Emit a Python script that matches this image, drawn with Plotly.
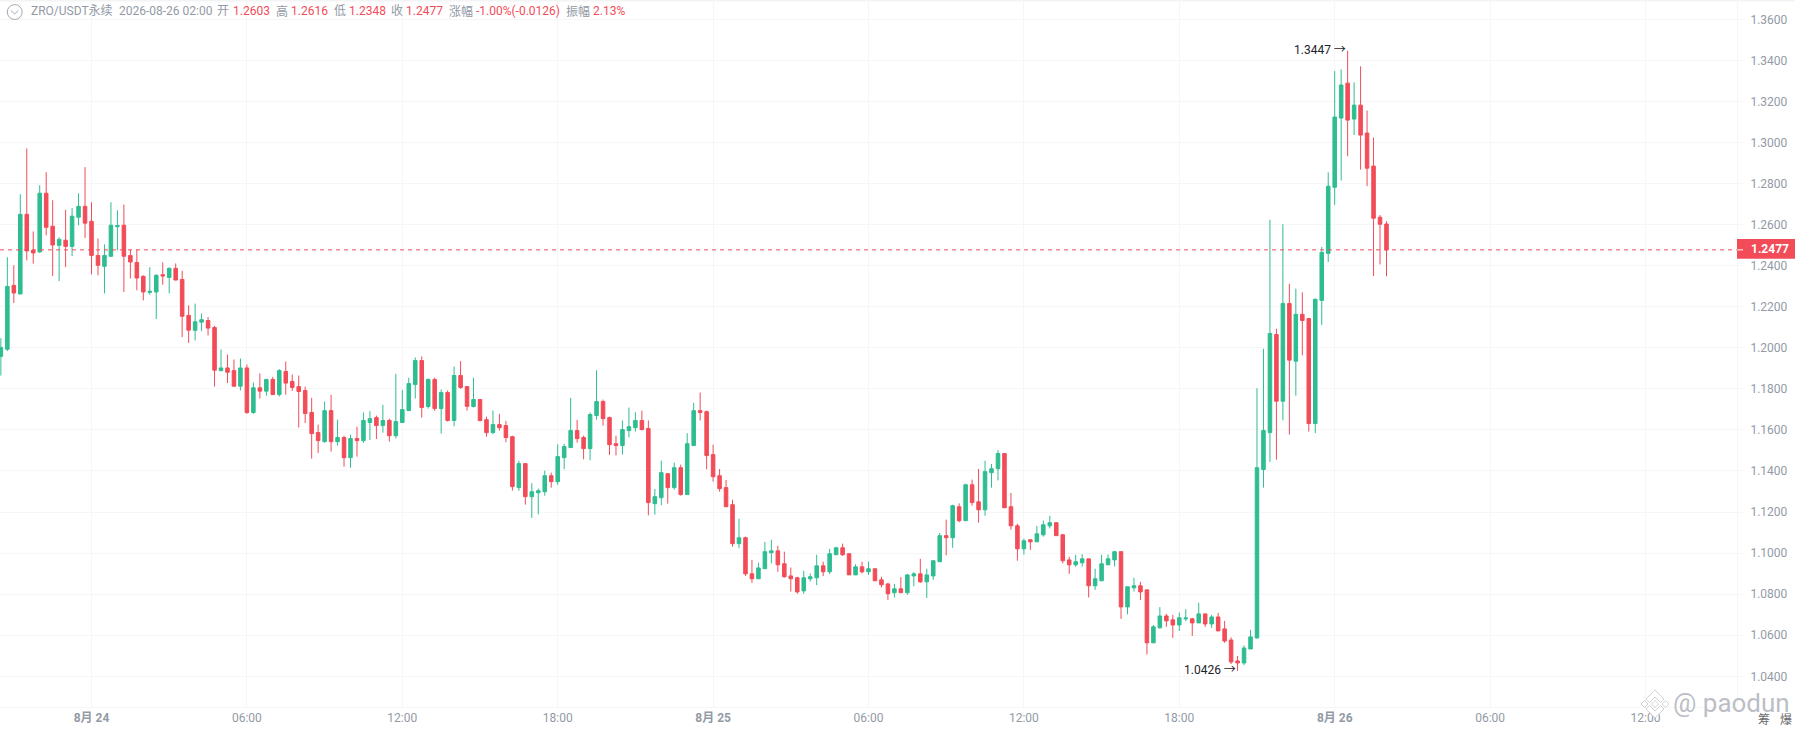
import pandas as pd
import plotly.graph_objects as go

# 15 分钟 K 线，从图上读出来的
START = "2026-08-23 20:30"

opens = [
    1.1958, 1.1993, 1.2304, 1.2262, 1.2650, 1.2475, 1.2467, 1.2753, 1.2592, 1.2499,
    1.2524, 1.2494, 1.2636, 1.2689, 1.2616, 1.2450, 1.2397, 1.2446, 1.2590, 1.2597,
    1.2450, 1.2416, 1.2348, 1.2270, 1.2272, 1.2356, 1.2343, 1.2387, 1.2333, 1.2158,
    1.2085, 1.2125, 1.2133, 1.2099, 1.1889, 1.1902, 1.1889, 1.1813, 1.1902, 1.1685,
    1.1805, 1.1789, 1.1846, 1.1772, 1.1885, 1.1836, 1.1811, 1.1792, 1.1685, 1.1587,
    1.1543, 1.1694, 1.1543, 1.1563, 1.1465, 1.1558, 1.1548, 1.1636, 1.1660, 1.1621,
    1.1646, 1.1572, 1.1636, 1.1694, 1.1821, 1.1938, 1.1714, 1.1846, 1.1704, 1.1782,
    1.1646, 1.1865, 1.1811, 1.1714, 1.1748, 1.1650, 1.1587, 1.1626, 1.1621, 1.1567,
    1.1319, 1.1436, 1.1275, 1.1294, 1.1299, 1.1377, 1.1348, 1.1465, 1.1514, 1.1597,
    1.1563, 1.1509, 1.1670, 1.1738, 1.1660, 1.1533, 1.1524, 1.1597, 1.1611, 1.1646,
    1.1607, 1.1241, 1.1270, 1.1387, 1.1319, 1.1416, 1.1285, 1.1524, 1.1694, 1.1689,
    1.1480, 1.1377, 1.1319, 1.1236, 1.1046, 1.1075, 1.0899, 1.0875, 1.0924, 1.1002,
    1.1011, 1.0948, 1.0889, 1.0880, 1.0816, 1.0875, 1.0880, 1.0938, 1.0909, 1.0992,
    1.1026, 1.0997, 1.0894, 1.0933, 1.0909, 1.0924, 1.0870, 1.0850, 1.0807, 1.0826,
    1.0807, 1.0889, 1.0899, 1.0860, 1.0889, 1.0958, 1.1085, 1.1075, 1.1226, 1.1158,
    1.1333, 1.1250, 1.1211, 1.1392, 1.1411, 1.1485, 1.1226, 1.1133, 1.1021, 1.1065,
    1.1055, 1.1089, 1.1133, 1.1148, 1.1089, 1.0967, 1.0943, 1.0953, 1.0972, 1.0841,
    1.0865, 1.0943, 1.0967, 1.1007, 1.0738, 1.0831, 1.0841, 1.0821, 1.0563, 1.0636,
    1.0694, 1.0675, 1.0650, 1.0680, 1.0680, 1.0660, 1.0704, 1.0655, 1.0689, 1.0631,
    1.0577, 1.0475, 1.0465, 1.0533, 1.0587, 1.1407, 1.1587, 1.2065, 1.1740, 1.2216,
    1.1935, 1.2163, 1.2143, 1.1631, 1.2231, 1.2460, 1.2782, 1.3119, 1.3289, 1.3114,
    1.3182, 1.3046, 1.2885, 1.2636, 1.2603,
]
closes = [
    1.2002, 1.2299, 1.2267, 1.2650, 1.2472, 1.2462, 1.2753, 1.2587, 1.2501, 1.2528,
    1.2494, 1.2641, 1.2689, 1.2607, 1.2450, 1.2402, 1.2450, 1.2597, 1.2595, 1.2446,
    1.2418, 1.2340, 1.2272, 1.2275, 1.2353, 1.2350, 1.2387, 1.2330, 1.2154, 1.2086,
    1.2127, 1.2137, 1.2096, 1.1891, 1.1902, 1.1881, 1.1813, 1.1902, 1.1685, 1.1805,
    1.1789, 1.1846, 1.1772, 1.1889, 1.1828, 1.1807, 1.1787, 1.1680, 1.1582, 1.1548,
    1.1694, 1.1543, 1.1563, 1.1465, 1.1558, 1.1548, 1.1646, 1.1655, 1.1621, 1.1646,
    1.1572, 1.1641, 1.1699, 1.1826, 1.1938, 1.1709, 1.1846, 1.1704, 1.1782, 1.1646,
    1.1865, 1.1807, 1.1715, 1.1748, 1.1646, 1.1587, 1.1626, 1.1611, 1.1563, 1.1324,
    1.1436, 1.1275, 1.1299, 1.1304, 1.1377, 1.1348, 1.1470, 1.1519, 1.1597, 1.1558,
    1.1509, 1.1675, 1.1738, 1.1655, 1.1528, 1.1524, 1.1602, 1.1616, 1.1646, 1.1602,
    1.1246, 1.1275, 1.1392, 1.1319, 1.1416, 1.1285, 1.1533, 1.1694, 1.1685, 1.1475,
    1.1372, 1.1314, 1.1226, 1.1046, 1.1075, 1.0899, 1.0875, 1.0928, 1.1007, 1.1011,
    1.0943, 1.0885, 1.0875, 1.0811, 1.0880, 1.0885, 1.0938, 1.0909, 1.0997, 1.1026,
    1.0992, 1.0894, 1.0933, 1.0909, 1.0924, 1.0865, 1.0846, 1.0802, 1.0826, 1.0807,
    1.0894, 1.0899, 1.0860, 1.0894, 1.0963, 1.1085, 1.1075, 1.1231, 1.1158, 1.1333,
    1.1246, 1.1211, 1.1397, 1.1411, 1.1485, 1.1221, 1.1133, 1.1021, 1.1060, 1.1055,
    1.1094, 1.1138, 1.1148, 1.1085, 1.0963, 1.0943, 1.0958, 1.0972, 1.0841, 1.0875,
    1.0948, 1.0972, 1.1007, 1.0738, 1.0836, 1.0841, 1.0811, 1.0563, 1.0641, 1.0694,
    1.0670, 1.0650, 1.0685, 1.0684, 1.0660, 1.0704, 1.0655, 1.0689, 1.0621, 1.0572,
    1.0470, 1.0465, 1.0538, 1.0592, 1.1416, 1.1597, 1.2070, 1.1740, 1.2216, 1.1940,
    1.2163, 1.2133, 1.1631, 1.2236, 1.2465, 1.2787, 1.3124, 1.3280, 1.3109, 1.3182,
    1.3036, 1.2875, 1.2631, 1.2602, 1.2477,
]
highs = [
    1.2047, 1.2441, 1.2402, 1.2748, 1.2971, 1.2567, 1.2792, 1.2855, 1.2719, 1.2538,
    1.2672, 1.2681, 1.2753, 1.2880, 1.2709, 1.2532, 1.2504, 1.2709, 1.2670, 1.2698,
    1.2478, 1.2478, 1.2353, 1.2393, 1.2358, 1.2416, 1.2392, 1.2411, 1.2375, 1.2207,
    1.2215, 1.2167, 1.2150, 1.2107, 1.1992, 1.1967, 1.1943, 1.1948, 1.1919, 1.1831,
    1.1875, 1.1846, 1.1859, 1.1896, 1.1933, 1.1870, 1.1865, 1.1811, 1.1756, 1.1626,
    1.1738, 1.1771, 1.1650, 1.1572, 1.1577, 1.1616, 1.1685, 1.1691, 1.1670, 1.1722,
    1.1655, 1.1873, 1.1795, 1.1854, 1.1953, 1.1958, 1.1850, 1.1855, 1.1797, 1.1792,
    1.1909, 1.1935, 1.1811, 1.1854, 1.1751, 1.1665, 1.1694, 1.1678, 1.1644, 1.1572,
    1.1450, 1.1436, 1.1340, 1.1315, 1.1402, 1.1392, 1.1530, 1.1532, 1.1756, 1.1649,
    1.1572, 1.1685, 1.1891, 1.1748, 1.1665, 1.1572, 1.1646, 1.1709, 1.1686, 1.1694,
    1.1646, 1.1312, 1.1450, 1.1387, 1.1441, 1.1431, 1.1584, 1.1732, 1.1782, 1.1694,
    1.1528, 1.1410, 1.1356, 1.1260, 1.1167, 1.1081, 1.0967, 1.0953, 1.1055, 1.1065,
    1.1036, 1.1007, 1.0930, 1.0885, 1.0914, 1.0901, 1.0992, 1.0958, 1.1021, 1.1031,
    1.1046, 1.0997, 1.0946, 1.0958, 1.0958, 1.0924, 1.0885, 1.0855, 1.0850, 1.0883,
    1.0899, 1.0907, 1.0972, 1.0924, 1.0963, 1.1098, 1.1163, 1.1236, 1.1242, 1.1338,
    1.1358, 1.1410, 1.1450, 1.1434, 1.1502, 1.1485, 1.1293, 1.1143, 1.1070, 1.1065,
    1.1133, 1.1158, 1.1182, 1.1148, 1.1094, 1.0982, 1.0992, 1.0995, 1.0972, 1.0924,
    1.0992, 1.0993, 1.1011, 1.1007, 1.0836, 1.0880, 1.0860, 1.0821, 1.0650, 1.0737,
    1.0704, 1.0699, 1.0711, 1.0727, 1.0685, 1.0758, 1.0704, 1.0699, 1.0709, 1.0670,
    1.0590, 1.0499, 1.0551, 1.0626, 1.1803, 1.1995, 1.2624, 1.2093, 1.2602, 1.2312,
    1.2288, 1.2270, 1.2143, 1.2241, 1.2491, 1.2855, 1.3348, 1.3356, 1.3447, 1.3293,
    1.3371, 1.3156, 1.3024, 1.2647, 1.2616,
]
lows = [
    1.1865, 1.1984, 1.2218, 1.2262, 1.2426, 1.2410, 1.2463, 1.2548, 1.2350, 1.2325,
    1.2393, 1.2447, 1.2597, 1.2535, 1.2358, 1.2353, 1.2265, 1.2442, 1.2475, 1.2272,
    1.2338, 1.2280, 1.2231, 1.2259, 1.2140, 1.2307, 1.2265, 1.2330, 1.2052, 1.2024,
    1.2036, 1.2081, 1.2060, 1.1811, 1.1885, 1.1828, 1.1811, 1.1792, 1.1678, 1.1678,
    1.1753, 1.1766, 1.1772, 1.1763, 1.1772, 1.1790, 1.1611, 1.1634, 1.1460, 1.1488,
    1.1538, 1.1494, 1.1524, 1.1421, 1.1416, 1.1470, 1.1537, 1.1551, 1.1556, 1.1587,
    1.1543, 1.1559, 1.1636, 1.1694, 1.1753, 1.1660, 1.1704, 1.1693, 1.1582, 1.1641,
    1.1618, 1.1800, 1.1694, 1.1709, 1.1641, 1.1567, 1.1580, 1.1597, 1.1540, 1.1304,
    1.1304, 1.1236, 1.1171, 1.1189, 1.1280, 1.1319, 1.1333, 1.1408, 1.1514, 1.1538,
    1.1457, 1.1452, 1.1650, 1.1621, 1.1478, 1.1476, 1.1480, 1.1564, 1.1592, 1.1597,
    1.1184, 1.1187, 1.1233, 1.1241, 1.1309, 1.1280, 1.1285, 1.1524, 1.1646, 1.1408,
    1.1348, 1.1299, 1.1226, 1.1031, 1.1024, 1.0889, 1.0855, 1.0875, 1.0924, 1.0950,
    1.0909, 1.0880, 1.0813, 1.0802, 1.0802, 1.0862, 1.0844, 1.0888, 1.0898, 1.0992,
    1.0987, 1.0894, 1.0894, 1.0901, 1.0894, 1.0865, 1.0833, 1.0772, 1.0784, 1.0807,
    1.0797, 1.0839, 1.0855, 1.0782, 1.0870, 1.0958, 1.0989, 1.1026, 1.1150, 1.1158,
    1.1231, 1.1148, 1.1182, 1.1319, 1.1354, 1.1221, 1.1114, 1.0963, 1.0993, 1.1016,
    1.1055, 1.1080, 1.1120, 1.1085, 1.0950, 1.0899, 1.0933, 1.0935, 1.0784, 1.0821,
    1.0865, 1.0943, 1.0935, 1.0680, 1.0702, 1.0813, 1.0771, 1.0506, 1.0563, 1.0633,
    1.0641, 1.0587, 1.0621, 1.0668, 1.0597, 1.0660, 1.0641, 1.0636, 1.0621, 1.0563,
    1.0460, 1.0426, 1.0454, 1.0533, 1.0584, 1.1319, 1.1444, 1.1455, 1.1647, 1.1577,
    1.1767, 1.1963, 1.1592, 1.1585, 1.2112, 1.2418, 1.2696, 1.2815, 1.2933, 1.3037,
    1.2868, 1.2787, 1.2350, 1.2406, 1.2348,
]

last_price = 1.2477

x_tick_times = ["2026-08-24 00:00", "2026-08-24 06:00", "2026-08-24 12:00", "2026-08-24 18:00",
                "2026-08-25 00:00", "2026-08-25 06:00", "2026-08-25 12:00", "2026-08-25 18:00",
                "2026-08-26 00:00", "2026-08-26 06:00", "2026-08-26 12:00"]
x_tick_labels = ["<b>8月 24</b>", "06:00", "12:00", "18:00",
                 "<b>8月 25</b>", "06:00", "12:00", "18:00",
                 "<b>8月 26</b>", "06:00", "12:00"]
y_tick_values = [1.04, 1.06, 1.08, 1.10, 1.12, 1.14, 1.16, 1.18, 1.20,
                 1.22, 1.24, 1.26, 1.28, 1.30, 1.32, 1.34, 1.36]

# ================== 样式 ==================
W, H = 1795, 729
M_L, M_R, M_T, M_B = 0, 58, 2, 22
UP = "#2ebd91"
DOWN = "#f24c58"
GRID = "#f6f6f7"
GREY = "#929aa5"
FONT = "Roboto, 'Noto Sans CJK SC', sans-serif"
plot_w = W - M_L - M_R
plot_h = H - M_T - M_B


def px(x):
    return (x - M_L) / plot_w


def py(y):
    return (H - M_B - y) / plot_h


def poly(points):
    # 像素坐标转成 paper 坐标的 svg path
    return "M" + " L".join(f"{px(a):.5f},{py(b):.5f}" for a, b in points) + " Z"


times = pd.date_range(START, periods=len(opens), freq="15min")

fig = go.Figure()
fig.add_trace(go.Candlestick(
    x=times, open=opens, high=highs, low=lows, close=closes,
    increasing=dict(line=dict(color=UP, width=1), fillcolor=UP),
    decreasing=dict(line=dict(color=DOWN, width=1), fillcolor=DOWN),
    whiskerwidth=0, showlegend=False,
))

shapes = [
    # 顶部细条和表头白底
    dict(type="rect", xref="paper", yref="paper", x0=0, x1=px(W), y0=py(1.5), y1=py(0),
         fillcolor="#f3f4f5", line_width=0, layer="above"),
    dict(type="rect", xref="paper", yref="paper", x0=0, x1=px(630), y0=py(19), y1=py(1.5),
         fillcolor="white", line_width=0, layer="below"),
    # 现价虚线
    dict(type="line", xref="paper", yref="y", x0=0, x1=1, y0=last_price, y1=last_price,
         line=dict(color=DOWN, width=1, dash="4px,4px"), layer="above"),
    # 现价标签
    dict(type="rect", xref="paper", yref="paper", x0=px(1737), x1=px(W), y0=py(258.7), y1=py(239),
         fillcolor=DOWN, line_width=0, layer="above"),
    dict(type="line", xref="paper", yref="y", x0=px(1737), x1=px(1743), y0=last_price, y1=last_price,
         line=dict(color="white", width=1), layer="above"),
    # 折叠图标
    dict(type="circle", xref="paper", yref="paper", x0=px(7.3), x1=px(22.2), y0=py(19.5), y1=py(4.6),
         fillcolor="white", line=dict(color="#a3a9b3", width=1), layer="above"),
    dict(type="path", xref="paper", yref="paper",
         path="M" + " L".join(f"{px(a):.5f},{py(b):.5f}" for a, b in [(11, 10.5), (14.7, 14), (18.4, 10.5)]),
         line=dict(color="#a3a9b3", width=1), layer="above"),
]

# 水印里的币安图标
logo_cx, logo_cy = 1655, 704
for pts in [
    [(0, -14), (9, -5), (5.5, -1.5), (0, -7), (-5.5, -1.5), (-9, -5)],
    [(0, 14), (9, 5), (5.5, 1.5), (0, 7), (-5.5, 1.5), (-9, 5)],
    [(-14, 0), (-10.5, -3.5), (-7, 0), (-10.5, 3.5)],
    [(14, 0), (10.5, -3.5), (7, 0), (10.5, 3.5)],
    [(0, -3.5), (3.5, 0), (0, 3.5), (-3.5, 0)],
]:
    shapes.append(dict(type="path", xref="paper", yref="paper",
                       path=poly([(logo_cx + a, logo_cy + b) for a, b in pts]),
                       fillcolor="white", line=dict(color="rgba(190,192,197,0.7)", width=1),
                       layer="above"))

annotations = []


def label(text, x, y, color=GREY, size=12, anchor="left", **kw):
    annotations.append(dict(text=text, x=px(x), y=py(y), xref="paper", yref="paper",
                            xanchor=anchor, yanchor="middle", showarrow=False,
                            font=dict(family=FONT, size=size, color=color), **kw))


# 表头
header = [
    ("ZRO/USDT永续", 29, GREY), ("2026-08-26 02:00", 116.7, GREY),
    ("开", 215, GREY), ("1.2603", 231, DOWN),
    ("高", 273.7, GREY), ("1.2616", 289, DOWN),
    ("低", 331.7, GREY), ("1.2348", 346.7, DOWN),
    ("收", 389.3, GREY), ("1.2477", 404.3, DOWN),
    ("涨幅", 447, GREY), ("-1.00%(-0.0126)", 474, DOWN),
    ("振幅", 564, GREY), ("2.13%", 590.7, DOWN),
]
for text, x, color in header:
    label(text, x, 11, color)

label("<b>1.2477</b>", 1749, 249, "white")

# 最高最低标注
hi = highs.index(max(highs))
lo = lows.index(min(lows))
annotations.append(dict(text=f"{highs[hi]:.4f} →", x=times[hi], y=highs[hi], xref="x", yref="y",
                        xanchor="right", yanchor="middle", xshift=0, yshift=1, showarrow=False,
                        font=dict(family=FONT, size=12, color="#1e2329")))
annotations.append(dict(text=f"{lows[lo]:.4f} →", x=times[lo], y=lows[lo], xref="x", yref="y",
                        xanchor="right", yanchor="middle", xshift=0, yshift=1, showarrow=False,
                        font=dict(family=FONT, size=12, color="#1e2329")))

# 水印
label("@ paodun", 1671, 703, "rgba(175,178,186,0.85)", 26, "left")
label("筹", 1764, 719.5, "#6a6a6a", 12, "center")
label("爆", 1786, 719.5, "#6a6a6a", 12, "center")

fig.update_layout(
    width=W, height=H,
    margin=dict(l=M_L, r=M_R, t=M_T, b=M_B, pad=0),
    paper_bgcolor="white", plot_bgcolor="white",
    boxgap=0.22,
    showlegend=False,
    shapes=shapes, annotations=annotations,
    font=dict(family=FONT, size=12, color=GREY),
)
fig.update_xaxes(
    type="date", range=["2026-08-23 20:28", "2026-08-26 15:32"],
    rangeslider_visible=False,
    tickmode="array", tickvals=x_tick_times, ticktext=x_tick_labels,
    showgrid=True, gridcolor=GRID, gridwidth=1,
    showline=True, linecolor=GRID, linewidth=1,
    ticks="", zeroline=False, tickfont=dict(family=FONT, size=12, color=GREY),
)
fig.update_yaxes(
    range=[1.02505, 1.36843], side="right",
    tickmode="array", tickvals=y_tick_values, tickformat=".4f",
    showgrid=True, gridcolor=GRID, gridwidth=1,
    showline=True, linecolor=GRID, linewidth=1,
    ticks="outside", ticklen=5, tickcolor=GRID, ticklabelstandoff=5,
    zeroline=False, tickfont=dict(family=FONT, size=12, color=GREY),
)

fig.write_html("out.html", config={"displayModeBar": False},
               post_script="document.body.style.margin='0';")
